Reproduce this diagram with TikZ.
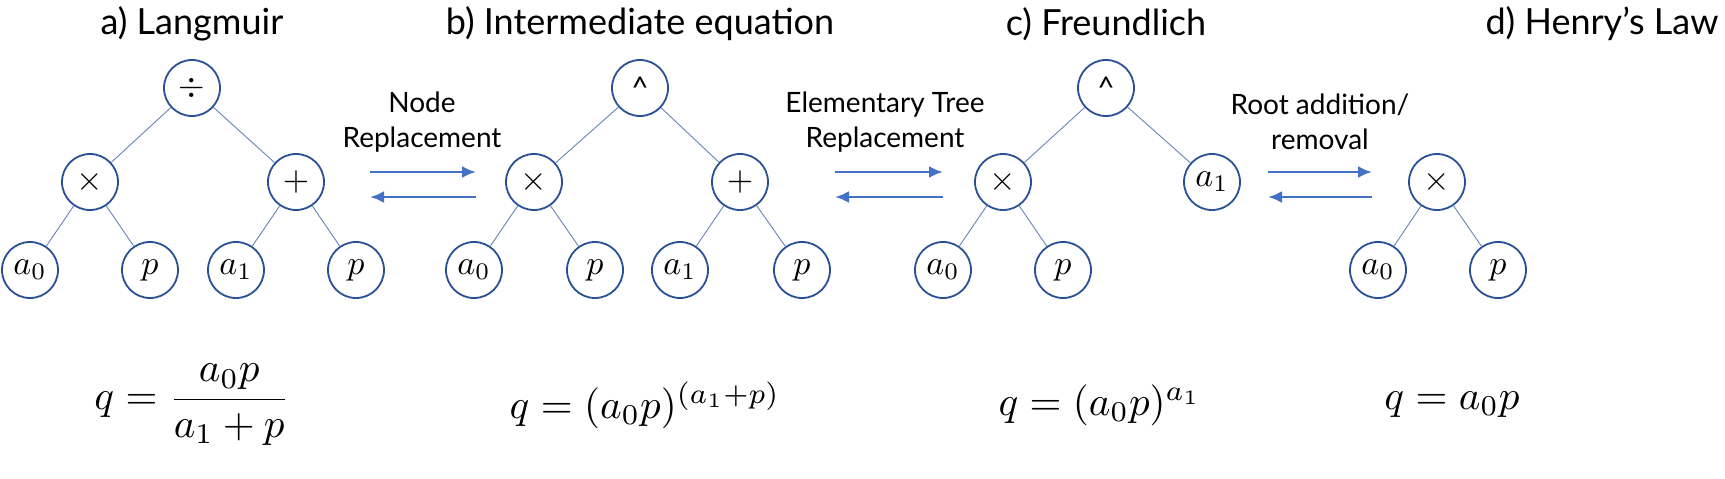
\documentclass[tikz,border=0pt]{standalone}
\usepackage{amsmath}
\usepackage{graphicx}
\usepackage{fontspec}
\setmainfont{Lato}
\usetikzlibrary{arrows.meta}
\newcommand\cmx[1]{\scalebox{3.4}{\fontsize{10}{12}\selectfont$#1$}}
\newcommand\eqx[1]{\scalebox{4.1}{\fontsize{10}{12}\selectfont$#1$}}
\begin{document}
\begin{tikzpicture}[x=1pt,y=-1pt,
  n/.style={circle,draw=cb,line width=1.8pt,minimum size=56pt,inner sep=0pt,font=\fontsize{30}{32}\selectfont},
  e/.style={draw=cb!70,line width=0.9pt},
  ar/.style={draw=ab,line width=2.8pt,-{Latex[length=14pt,width=12pt]}},
  t/.style={font=\fontsize{36}{40}\selectfont},
  lb/.style={font=\fontsize{28}{35}\selectfont,align=center},
  eq/.style={}]
\definecolor{cb}{RGB}{40,80,150}
\definecolor{ab}{RGB}{68,114,196}
\useasboundingbox (0,0) rectangle (1725,479);
% a
\node[t] (ta) at (192,24) {a) Langmuir};
\node[n] (a1) at (192,88) {\cmx{\div}};
\node[n] (a2) at (90,182) {\cmx{\times}};
\node[n] (a3) at (296,182) {\cmx{+}};
\node[n] (a4) at (30,270) {\cmx{a_0}};
\node[n] (a5) at (150,270) {\cmx{p}};
\node[n] (a6) at (236,270) {\cmx{a_1}};
\node[n] (a7) at (356,270) {\cmx{p}};
\draw[e] (a1)--(a2) (a1)--(a3) (a2)--(a4) (a2)--(a5) (a3)--(a6) (a3)--(a7);
\node[eq] (ea) at (192,405) {\eqx{q=\dfrac{a_0p}{a_1+p}}};
% b
\node[t] (tb) at (640,24) {b) Intermediate equation};
\node[n] (b1) at (640,88) {\textasciicircum};
\node[n] (b2) at (534,182) {\cmx{\times}};
\node[n] (b3) at (740,182) {\cmx{+}};
\node[n] (b4) at (474,270) {\cmx{a_0}};
\node[n] (b5) at (595,270) {\cmx{p}};
\node[n] (b6) at (680,270) {\cmx{a_1}};
\node[n] (b7) at (802,270) {\cmx{p}};
\draw[e] (b1)--(b2) (b1)--(b3) (b2)--(b4) (b2)--(b5) (b3)--(b6) (b3)--(b7);
\node[eq] (eb) at (645,405) {\eqx{q=(a_0p)^{(a_1+p)}}};
% c
\node[t] (tc) at (1106,24) {c) Freundlich};
\node[n] (c1) at (1106,88) {\textasciicircum};
\node[n] (c2) at (1003,182) {\cmx{\times}};
\node[n] (c3) at (1212,182) {\cmx{a_1}};
\node[n] (c4) at (943,270) {\cmx{a_0}};
\node[n] (c5) at (1063,270) {\cmx{p}};
\draw[e] (c1)--(c2) (c1)--(c3) (c2)--(c4) (c2)--(c5);
\node[eq] (ec) at (1100,405) {\eqx{q=(a_0p)^{a_1}}};
% d
\node[t,anchor=east] (td) at (1722,24) {d) Henry’s Law};
\node[n] (d2) at (1437,182) {\cmx{\times}};
\node[n] (d4) at (1378,270) {\cmx{a_0}};
\node[n] (d5) at (1498,270) {\cmx{p}};
\draw[e] (d2)--(d4) (d2)--(d5);
\node[eq] (ed) at (1452,405) {\eqx{q=a_0p}};
% arrows
\coordinate (p1) at (370,172); \coordinate (q1) at (476,172);
\coordinate (p2) at (370,197); \coordinate (q2) at (476,197);
\draw[ar] (p1)--(q1); \draw[ar] (q2)--(p2);
\node[lb] (l1) at (422,122) {Node\\Replacement};
\coordinate (p3) at (835,172); \coordinate (q3) at (943,172);
\coordinate (p4) at (835,197); \coordinate (q4) at (943,197);
\draw[ar] (p3)--(q3); \draw[ar] (q4)--(p4);
\node[lb] (l2) at (885,122) {Elementary Tree\\Replacement};
\coordinate (p5) at (1268,172); \coordinate (q5) at (1372,172);
\coordinate (p6) at (1268,197); \coordinate (q6) at (1372,197);
\draw[ar] (p5)--(q5); \draw[ar] (q6)--(p6);
\node[lb] (l3) at (1320,122) {Root addition/\\removal};
\end{tikzpicture}
\end{document}
